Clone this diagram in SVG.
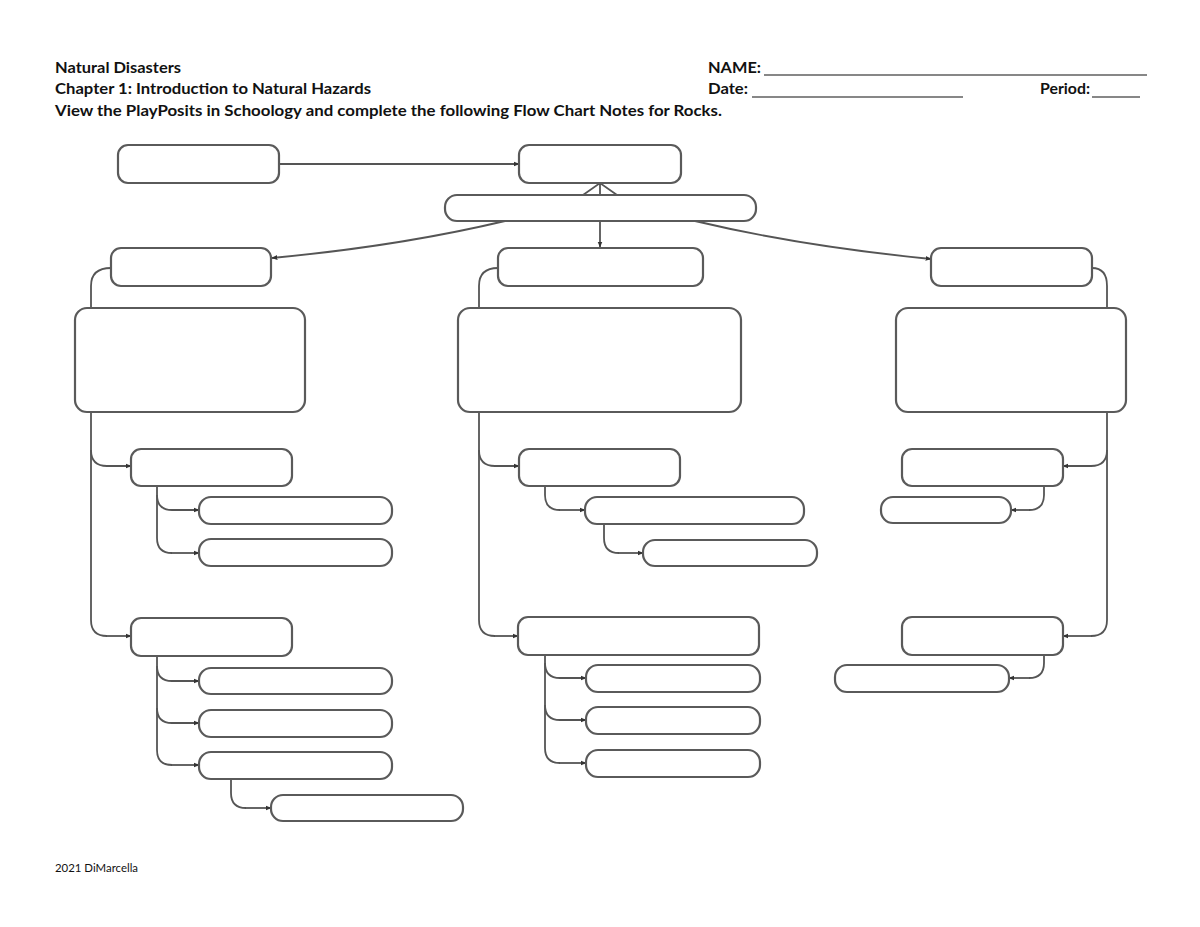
<svg xmlns="http://www.w3.org/2000/svg" width="1200" height="927" viewBox="0 0 1200 927">
<defs>
<style>
.hd{font-family:Lato,"Liberation Sans",sans-serif;font-weight:bold;font-size:16px;fill:#111}
.ft{font-family:Lato,"Liberation Sans",sans-serif;font-size:11.2px;fill:#111}
.ul{stroke:#111;stroke-width:1.2}
.bx{fill:#fff;stroke:#5a5a5a;stroke-width:2.2}
.cn{fill:none;stroke:#555;stroke-width:1.8}
.ca{fill:none;stroke:#555;stroke-width:1.8;marker-end:url(#ah)}
</style>
<marker id="ah" viewBox="0 0 10 10" refX="9" refY="5" markerWidth="6" markerHeight="6" orient="auto" markerUnits="userSpaceOnUse">
<path d="M0,1 L10,5 L0,9 z" fill="#333"/>
</marker>
</defs>
<rect width="1200" height="927" fill="#fff"/>

<g id="header">
<text class="hd" x="55" y="73" textLength="126" lengthAdjust="spacingAndGlyphs">Natural Disasters</text>
<text class="hd" x="55" y="94" textLength="316" lengthAdjust="spacingAndGlyphs">Chapter 1: Introduction to Natural Hazards</text>
<text class="hd" x="55" y="116" textLength="667" lengthAdjust="spacingAndGlyphs">View the PlayPosits in Schoology and complete the following Flow Chart Notes for Rocks.</text>
<text class="hd" x="708" y="73" textLength="53" lengthAdjust="spacingAndGlyphs">NAME:</text>
<line class="ul" x1="764" y1="75" x2="1147" y2="75"/>
<text class="hd" x="708" y="94" textLength="40" lengthAdjust="spacingAndGlyphs">Date:</text>
<line class="ul" x1="752" y1="97" x2="963" y2="97"/>
<text class="hd" x="1040" y="94" textLength="50" lengthAdjust="spacingAndGlyphs">Period:</text>
<line class="ul" x1="1092" y1="97" x2="1140" y2="97"/>
</g>

<g id="connectors">
<path class="ca" d="M279,164 H519"/>
<path class="cn" d="M583,195 L600,183 L617,195 M600,183 V195"/>
<path class="ca" d="M505,221 Q400,246 272,258"/>
<path class="ca" d="M600,221 V247"/>
<path class="ca" d="M695,221 Q800,246 931,259"/>
<path class="cn" d="M111,268 Q91,268 91,286 V308"/>
<path class="cn" d="M91,412 V620 Q91,636 107,636"/>
<path class="ca" d="M106,636 H131"/>
<path class="ca" d="M91,450 Q91,466 107,466 H131"/>
<path class="cn" d="M157,486 V538 Q157,553 172,553"/>
<path class="ca" d="M171,553 H199"/>
<path class="ca" d="M157,495 Q157,510 172,510 H199"/>
<path class="cn" d="M157,656 V750 Q157,765 172,765"/>
<path class="ca" d="M171,765 H199"/>
<path class="ca" d="M157,666 Q157,681 172,681 H199"/>
<path class="ca" d="M157,708 Q157,723 172,723 H199"/>
<path class="cn" d="M231,779 V793 Q231,808 246,808"/>
<path class="ca" d="M245,808 H271"/>
<path class="cn" d="M498,268 Q479,268 479,286 V308"/>
<path class="cn" d="M479,412 V620 Q479,636 495,636"/>
<path class="ca" d="M494,636 H518"/>
<path class="ca" d="M479,450 Q479,466 495,466 H519"/>
<path class="cn" d="M545,486 V495 Q545,510 560,510"/>
<path class="ca" d="M559,510 H585"/>
<path class="cn" d="M604,524 V538 Q604,553 619,553"/>
<path class="ca" d="M618,553 H643"/>
<path class="cn" d="M545,655 V748 Q545,763 560,763"/>
<path class="ca" d="M559,763 H586"/>
<path class="ca" d="M545,663 Q545,678 560,678 H586"/>
<path class="ca" d="M545,705 Q545,720 560,720 H586"/>
<path class="cn" d="M1092,268 Q1107,268 1107,286 V308"/>
<path class="cn" d="M1107,412 V620 Q1107,636 1091,636"/>
<path class="ca" d="M1092,636 H1063"/>
<path class="ca" d="M1107,450 Q1107,466 1091,466 H1063"/>
<path class="cn" d="M1044,486 V495 Q1044,510 1029,510"/>
<path class="ca" d="M1030,510 H1011"/>
<path class="cn" d="M1044,655 V663 Q1044,678 1029,678"/>
<path class="ca" d="M1030,678 H1009"/>
</g>

<g id="n-top-left"><rect class="bx" x="118" y="145" width="161" height="38" rx="10"/></g>
<g id="n-top-mid"><rect class="bx" x="519" y="145" width="162" height="38" rx="10"/></g>
<g id="n-wide"><rect class="bx" x="445" y="195" width="311" height="26" rx="12"/></g>

<g id="n-l1-left"><rect class="bx" x="111" y="248" width="160" height="38" rx="10"/></g>
<g id="n-l1-mid"><rect class="bx" x="498" y="248" width="205" height="38" rx="10"/></g>
<g id="n-l1-right"><rect class="bx" x="931" y="248" width="161" height="38" rx="10"/></g>

<g id="n-big-left"><rect class="bx" x="75" y="308" width="230" height="104" rx="12"/></g>
<g id="n-big-mid"><rect class="bx" x="458" y="308" width="283" height="104" rx="12"/></g>
<g id="n-big-right"><rect class="bx" x="896" y="308" width="230" height="104" rx="12"/></g>

<g id="n-a1"><rect class="bx" x="131" y="449" width="161" height="37" rx="10"/></g>
<g id="n-a1a"><rect class="bx" x="199" y="497" width="193" height="27" rx="12"/></g>
<g id="n-a1b"><rect class="bx" x="199" y="539" width="193" height="27" rx="12"/></g>
<g id="n-a2"><rect class="bx" x="131" y="618" width="161" height="38" rx="10"/></g>
<g id="n-a2a"><rect class="bx" x="199" y="668" width="193" height="26" rx="12"/></g>
<g id="n-a2b"><rect class="bx" x="199" y="710" width="193" height="27" rx="12"/></g>
<g id="n-a2c"><rect class="bx" x="199" y="752" width="193" height="27" rx="12"/></g>
<g id="n-a2c1"><rect class="bx" x="271" y="795" width="192" height="26" rx="12"/></g>

<g id="n-b1"><rect class="bx" x="519" y="449" width="161" height="37" rx="10"/></g>
<g id="n-b1a"><rect class="bx" x="585" y="497" width="219" height="27" rx="12"/></g>
<g id="n-b1a1"><rect class="bx" x="643" y="540" width="174" height="26" rx="12"/></g>
<g id="n-b2"><rect class="bx" x="518" y="617" width="241" height="38" rx="10"/></g>
<g id="n-b2a"><rect class="bx" x="586" y="665" width="174" height="27" rx="12"/></g>
<g id="n-b2b"><rect class="bx" x="586" y="707" width="174" height="27" rx="12"/></g>
<g id="n-b2c"><rect class="bx" x="586" y="750" width="174" height="27" rx="12"/></g>

<g id="n-c1"><rect class="bx" x="902" y="449" width="161" height="37" rx="10"/></g>
<g id="n-c1a"><rect class="bx" x="881" y="497" width="130" height="26" rx="12"/></g>
<g id="n-c2"><rect class="bx" x="902" y="617" width="161" height="38" rx="10"/></g>
<g id="n-c2a"><rect class="bx" x="835" y="665" width="174" height="27" rx="12"/></g>

<g id="footer"><text class="ft" x="55" y="872" textLength="83" lengthAdjust="spacingAndGlyphs">2021 DiMarcella</text></g>
</svg>
